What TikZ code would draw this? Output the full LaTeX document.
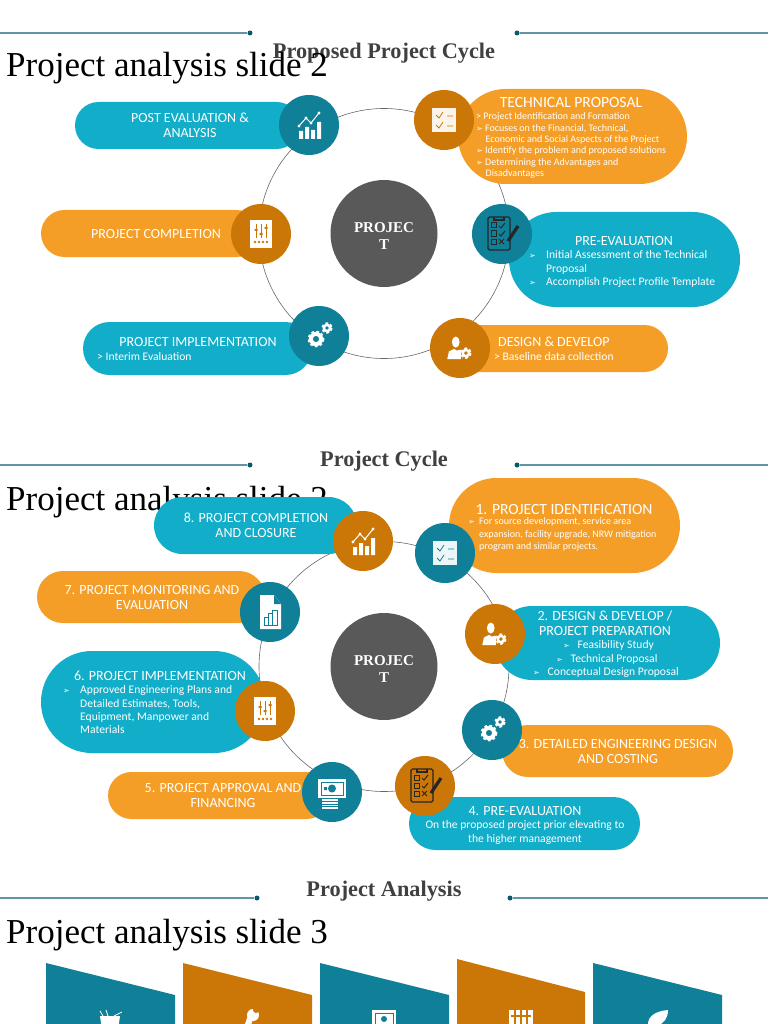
\documentclass[tikz,border=0pt]{standalone}
\usepackage{fontspec}
\setmainfont{Liberation Serif}
\newfontfamily\pillfont{Carlito}
\newfontfamily\symfont{DejaVu Sans}
\usetikzlibrary{shapes.misc}
\definecolor{pillblue}{HTML}{12ADC8}
\definecolor{pillorange}{HTML}{F59E27}
\definecolor{darkteal}{HTML}{0F8098}
\definecolor{darkorange}{HTML}{CB7707}
\definecolor{coregray}{HTML}{595959}
\definecolor{titlegray}{HTML}{404040}
\definecolor{rulecolor}{HTML}{5F96A6}
\newcommand{\bul}[1][9pt]{\makebox[#1][l]{\symfont\footnotesize ➢}}
\tikzset{
  bluepill/.style={rounded rectangle, fill=pillblue, inner sep=0pt},
  orangepill/.style={rounded rectangle, fill=pillorange, inner sep=0pt},
  tealcirc/.style={circle, fill=darkteal, minimum size=60pt, inner sep=0pt},
  ambercirc/.style={circle, fill=darkorange, minimum size=60pt, inner sep=0pt},
  ringline/.style={circle, draw=black!60, line width=0.6pt, minimum size=250pt, inner sep=0pt},
  corecirc/.style={circle, fill=coregray, minimum size=107pt, inner sep=0pt, text=white, align=center,
    font=\fontsize{15}{17}\selectfont\bfseries},
  headtext/.style={inner sep=0pt, text=white, align=center, font=\pillfont\fontsize{14}{15}\selectfont},
  bighead/.style={inner sep=0pt, text=white, align=center, font=\pillfont\fontsize{15.6}{17}\selectfont},
  bodytext/.style={inner sep=0pt, text=white, anchor=west, font=\pillfont\fontsize{11.6}{13}\selectfont},
  smalltext/.style={inner sep=0pt, text=white, anchor=west, font=\pillfont\fontsize{10}{11}\selectfont},
  slidetitle/.style={inner sep=0pt, anchor=base west, font=\fontsize{35}{37}\selectfont},
  cycletitle/.style={inner sep=0pt, text=titlegray, font=\fontsize{22.3}{24}\selectfont\bfseries},
  ruledot/.style={circle, fill=darkteal!70!black, minimum size=5pt, inner sep=0pt},
  ruleline/.style={draw=rulecolor, line width=1.2pt},
  pics/chartico/.style={code={
    \fill[white] (-10,14) rectangle (-6,6) (-4,14) rectangle (0,2) (2,14) rectangle (6,5) (8,14) rectangle (12,-3);
    \draw[white, line width=1pt] (-10,1) -- (-3,-7) -- (2,-2) -- (10,-12);
    \fill[white] (-10,1) circle (1.6) (-3,-7) circle (1.6) (2,-2) circle (1.6) (10,-12) circle (1.6);
  }},
  pics/checkico/.style={code={
    \fill[white!92!#1] (-12,-12) rectangle (12,12);
    \draw[#1, line width=0.8pt] (-8,-5) -- (-5,-2) -- (-1,-8) (3,-4) -- (9,-4) (-8,5) -- (-5,8) -- (-1,2) (3,6) -- (9,6);
  }},
  pics/sliderico/.style={code={
    \fill[white] (-11,-14) rectangle (11,14);
    \draw[darkorange, line width=1pt] (-5,-10) -- (-5,4) (0,-10) -- (0,4) (5,-10) -- (5,4);
    \fill[darkorange] (-6.5,-5) rectangle (-3.5,-3) (-1.5,-1) rectangle (1.5,1) (3.5,-7) rectangle (6.5,-5);
    \fill[darkorange] (-6,8) circle (1.4) (-2,8) circle (1.4) (2,8) circle (1.4) (6,8) circle (1.4);
  }},
  pics/clipico/.style={code={
    \draw[black!85, line width=1.2pt, rounded corners=1.5pt] (-14,-17) rectangle (8,16);
    \draw[black!85, line width=1.2pt] (-8,-17) -- (-8,-14) -- (2,-14) -- (2,-17);
    \draw[black!85, line width=1pt] (-11,-11) rectangle (-6,-6) (-11,-3) rectangle (-6,2) (-11,5) rectangle (-6,10);
    \draw[black!85, line width=1pt] (-3,-8) -- (-1,-6) -- (3,-11) (-3,0) -- (-1,2) -- (3,-3) (-3,5) -- (2,10) (2,5) -- (-3,10);
    \draw[black!85, line width=3.2pt] (6,7) -- (16,-8);
  }},
  pics/personico/.style={code={
    \fill[white] (-5,-7) ellipse (4.5 and 6.5);
    \fill[white] (-15,13) -- (-13,4) -- (-7,1) -- (-4,3) -- (1,2) -- (1,13) -- cycle;
    \pic at (7,6) {gearico={0.6}{darkorange}};
  }},
  pics/gearico/.style 2 args={code={
    \begin{scope}[scale=#1]
      \draw[white, line width=2.4pt, dash pattern=on 2.6pt off 2.2pt] (0,0) circle (7.5);
      \fill[white] (0,0) circle (7.5);
      \fill[#2] (0,0) circle (3.2);
    \end{scope}
  }},
  pics/gearsico/.style={code={
    \pic at (-3,3) {gearico={0.95}{darkteal}};
    \pic at (8,-8) {gearico={0.6}{darkteal}};
  }},
  pics/docico/.style={code={
    \fill[white] (-10,-17) -- (4,-17) -- (11,-8) -- (11,17) -- (-10,17) -- cycle;
    \fill[darkteal] (4,-17) -- (11,-8) -- (4,-8) -- cycle;
    \draw[darkteal, line width=0.8pt] (-6,13) rectangle (-2,5) (-2,13) rectangle (2,1) (2,13) rectangle (7,-2);
  }},
  pics/moneyico/.style={code={
    \fill[white] (-14,-13) rectangle (14,6);
    \draw[darkteal, line width=0.8pt] (-11,-10) rectangle (11,3);
    \fill[darkteal] (0,-3.5) circle (4) (-8,-5) rectangle (-5,-2);
    \fill[white] (-10,7) rectangle (6,17);
    \draw[darkteal, line width=0.6pt] (-10,9.5) -- (6,9.5) (-10,12) -- (6,12) (-10,14.5) -- (6,14.5);
  }}
}
\begin{document}
\begin{tikzpicture}[x=1pt, y=-1pt]
\useasboundingbox (0,0) rectangle (768,1024);
\clip (0,0) rectangle (768,1024);

\node[ruledot] (dota) at (250,33) {};
\node[ruledot] (dotb) at (517,33) {};
\coordinate (edgea) at (0,33);
\coordinate (edgeb) at (768,33);
\draw[ruleline] (edgea) -- (dota);
\draw[ruleline] (dotb) -- (edgeb);
\node[ruledot] (dotc) at (250,465) {};
\node[ruledot] (dotd) at (517,465) {};
\coordinate (edgec) at (0,465);
\coordinate (edged) at (768,465);
\draw[ruleline] (edgec) -- (dotc);
\draw[ruleline] (dotd) -- (edged);
\node[ruledot] (dote) at (257,898) {};
\node[ruledot] (dotf) at (510,898) {};
\coordinate (edgee) at (0,898);
\coordinate (edgef) at (768,898);
\draw[ruleline] (edgee) -- (dote);
\draw[ruleline] (dotf) -- (edgef);

\node[cycletitle] (titlea) at (384,53) {Proposed Project Cycle};
\node[cycletitle] (titleb) at (384,461) {Project Cycle};
\node[cycletitle] (titlec) at (384,891) {Project Analysis};
\node[slidetitle] (slidea) at (6,77) {Project analysis slide 2};
\node[slidetitle] (slideb) at (6,510) {Project analysis slide 2};
\node[slidetitle] (slidec) at (6,943) {Project analysis slide 3};

\node[ringline] (ringa) at (384,233.5) {};
\node[corecirc] (corea) at (384,233.5) {\rule{0pt}{14.5pt}PROJEC\\T};

\node[bluepill, minimum width=225pt, minimum height=47pt] (pillpost) at (187.5,125.5) {};
\node[orangepill, minimum width=229pt, minimum height=95pt] (pilltech) at (572.5,136.5) {};
\node[orangepill, minimum width=219pt, minimum height=47pt] (pillcomp) at (150.5,233.5) {};
\node[bluepill, minimum width=231pt, minimum height=95pt] (pillpre) at (624.5,259.5) {};
\node[bluepill, minimum width=229pt, minimum height=53pt] (pillimpl) at (197.5,348.5) {};
\node[orangepill, minimum width=218pt, minimum height=47pt] (pilldes) at (559,348.5) {};

\node[tealcirc] (circpost) at (309,125) {};
\node[ambercirc] (circtech) at (444,120) {};
\node[ambercirc] (circcomp) at (261,234) {};
\node[tealcirc] (circpre) at (502,234) {};
\node[tealcirc] (circimpl) at (319,336) {};
\node[ambercirc] (circdes) at (460,348) {};
\pic at (circpost) {chartico};
\pic at (circtech) {checkico=darkorange};
\pic at (circcomp) {sliderico};
\pic at (circpre) {clipico};
\pic at (circimpl) {gearsico};
\pic[scale=0.85] at (circdes) {personico};

\node[headtext] (textpost) at (190,125.5) {POST EVALUATION \&\\ANALYSIS};
\node[headtext] (textcomp) at (156,234) {PROJECT COMPLETION};
\node[bighead] (texttech) at (571,102) {TECHNICAL PROPOSAL};
\node[smalltext] (lineta) at (476,117) {> Project Identification and Formation};
\node[smalltext] (linetb) at (476,128.5) {\bul Focuses on the Financial, Technical,};
\node[smalltext] (linetc) at (485.5,140) {Economic and Social Aspects of the Project};
\node[smalltext] (linetd) at (476,151) {\bul Identify the problem and proposed solutions};
\node[smalltext] (linete) at (476,162.5) {\bul Determining the Advantages and};
\node[smalltext] (linetf) at (485.5,174) {Disadvantages};
\node[headtext] (textpre) at (624,241) {PRE-EVALUATION};
\node[bodytext] (linepa) at (529,255) {\bul[17pt]Initial Assessment of the Technical};
\node[bodytext] (linepb) at (546,269) {Proposal};
\node[bodytext] (linepc) at (529,282) {\bul[17pt]Accomplish Project Profile Template};
\node[headtext] (textimpl) at (198,342) {PROJECT IMPLEMENTATION};
\node[bodytext] (lineia) at (97,357) {> Interim Evaluation};
\node[headtext, anchor=west] (textdes) at (498,342) {DESIGN \& DEVELOP};
\node[bodytext] (lineda) at (494,357) {> Baseline data collection};

\node[ringline] (ringb) at (384,666.5) {};
\node[corecirc] (coreb) at (384,666.5) {\rule{0pt}{14.5pt}PROJEC\\T};

\node[bluepill, minimum width=203pt, minimum height=57pt] (pilleight) at (255.5,525.5) {};
\node[orangepill, minimum width=231pt, minimum height=95pt] (pillone) at (564.5,525.5) {};
\node[orangepill, minimum width=228pt, minimum height=52pt] (pillseven) at (151,597) {};
\node[bluepill, minimum width=225pt, minimum height=74pt] (pilltwo) at (607.5,643) {};
\node[bluepill, minimum width=224pt, minimum height=102pt] (pillsix) at (153,702) {};
\node[orangepill, minimum width=231pt, minimum height=52pt] (pillthree) at (617.5,751) {};
\node[orangepill, minimum width=222pt, minimum height=47pt] (pillfive) at (219,795.5) {};
\node[bluepill, minimum width=231pt, minimum height=53pt] (pillfour) at (524.5,823.5) {};

\node[ambercirc] (circeight) at (363,541) {};
\node[tealcirc] (circone) at (445,553) {};
\node[tealcirc] (circseven) at (270,612) {};
\node[ambercirc] (circtwo) at (495,634) {};
\node[ambercirc] (circsix) at (265,711) {};
\node[tealcirc] (circthree) at (492,730) {};
\node[tealcirc] (circfive) at (332,792) {};
\node[ambercirc] (circfour) at (425,786) {};
\pic at (circeight) {chartico};
\pic at (circone) {checkico=darkteal};
\pic at (circseven) {docico};
\pic[scale=0.85] at (circtwo) {personico};
\pic at (circsix) {sliderico};
\pic at (circthree) {gearsico};
\pic at (circfive) {moneyico};
\pic at (circfour) {clipico};

\node[headtext] (texteight) at (256,525.5) {8. PROJECT COMPLETION\\AND CLOSURE};
\node[bighead] (textone) at (564,509) {1. PROJECT IDENTIFICATION};
\node[smalltext] (lineoa) at (468,522) {\bul[11pt]For source development, service area};
\node[smalltext] (lineob) at (479,535) {expansion, facility upgrade, NRW mitigation};
\node[smalltext] (lineoc) at (479,547) {program and similar projects.};
\node[headtext] (textseven) at (152,597.5) {7. PROJECT MONITORING AND\\EVALUATION};
\node[headtext] (texttwo) at (605,623.5) {2. DESIGN \& DEVELOP /\\PROJECT PREPARATION};
\node[bodytext] (linewa) at (563,645) {\bul[14.5pt]Feasibility Study};
\node[bodytext] (linewb) at (556,659) {\bul[14.5pt]Technical Proposal};
\node[bodytext] (linewc) at (533,672) {\bul[14.5pt]Conceptual Design Proposal};
\node[headtext] (textsix) at (160,676) {6. PROJECT IMPLEMENTATION};
\node[bodytext] (linesa) at (63,690) {\bul[17pt]Approved Engineering Plans and};
\node[bodytext] (linesb) at (80,704) {Detailed Estimates, Tools,};
\node[bodytext] (linesc) at (80,717) {Equipment, Manpower and};
\node[bodytext] (linesd) at (80,730) {Materials};
\node[headtext] (textthree) at (618,751.5) {3. DETAILED ENGINEERING DESIGN\\AND COSTING};
\node[headtext] (textfive) at (223,795.5) {5. PROJECT APPROVAL AND\\FINANCING};
\node[headtext] (textfour) at (525,811) {4. PRE-EVALUATION};
\node[bodytext, anchor=center] (linefa) at (525,825) {On the proposed project prior elevating to};
\node[bodytext, anchor=center] (linefb) at (525,839) {the higher management};

\fill[darkteal] (46,963) -- (175,995) -- (175,1024) -- (46,1024) -- cycle;
\fill[darkorange] (183,963) -- (312,995) -- (312,1024) -- (183,1024) -- cycle;
\fill[darkteal] (320,963) -- (449,995) -- (449,1024) -- (320,1024) -- cycle;
\fill[darkorange] (457,959) -- (585,992) -- (585,1024) -- (457,1024) -- cycle;
\fill[darkteal] (593,963) -- (722,995) -- (722,1024) -- (593,1024) -- cycle;

\fill[white] (100,1016) -- (120,1016) -- (118,1030) -- (102,1030) -- cycle;
\draw[white, line width=0.8pt] (100,1011) -- (103,1016) (106,1010) -- (108,1016) (122,1012) -- (114,1016);
\draw[white, line width=6pt] (251,1016) -- (246,1030);
\fill[white] (253,1015) circle (6);
\fill[darkorange] (256,1010) circle (3);
\fill[white] (372,1010) rectangle (396,1026);
\draw[darkteal, line width=0.8pt] (375,1013) rectangle (393,1026);
\fill[darkteal] (384,1019) circle (3);
\fill[white] (509,1010) rectangle (533,1026);
\draw[darkorange, line width=1.4pt] (515,1010) -- (515,1026) (521,1010) -- (521,1026) (527,1010) -- (527,1026);
\fill[darkorange] (511,1015) rectangle (531,1017);
\fill[white] (648,1024) .. controls (648,1016) and (656,1011) .. (668,1010) .. controls (668,1018) and (664,1024) .. (656,1026) -- cycle;
\end{tikzpicture}
\end{document}
